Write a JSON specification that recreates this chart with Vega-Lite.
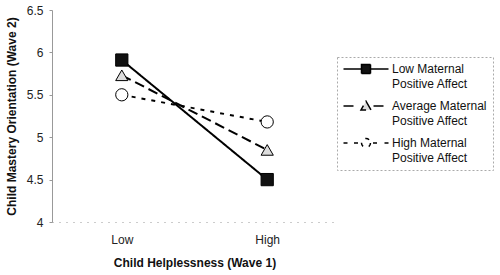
{
  "$schema": "https://vega.github.io/schema/vega-lite/v6.json",
  "width": 285,
  "height": 212,
  "autosize": {"type": "none"},
  "padding": {"left": 52, "top": 10, "right": 163, "bottom": 53},
  "background": "white",
  "config": {
    "view": {"stroke": null},
    "font": "Liberation Sans",
    "axis": {"grid": false, "labelFont": "Liberation Sans", "titleFont": "Liberation Sans", "labelColor": "#222", "titleColor": "#111"},
    "legend": {"labelFont": "Liberation Sans"}
  },
  "data": {
    "values": [
      {"helplessness": "Low", "group": "Low Maternal Positive Affect", "mastery": 5.91},
      {"helplessness": "High", "group": "Low Maternal Positive Affect", "mastery": 4.5},
      {"helplessness": "Low", "group": "Average Maternal Positive Affect", "mastery": 5.73},
      {"helplessness": "High", "group": "Average Maternal Positive Affect", "mastery": 4.85},
      {"helplessness": "Low", "group": "High Maternal Positive Affect", "mastery": 5.5},
      {"helplessness": "High", "group": "High Maternal Positive Affect", "mastery": 5.18}
    ]
  },
  "encoding": {
    "x": {
      "field": "helplessness", "type": "ordinal", "sort": ["Low", "High"],
      "scale": {"type": "point", "padding": 0.48},
      "axis": {"title": "Child Helplessness (Wave 1)", "labelAngle": 0, "labelFontSize": 12, "titleFontSize": 12, "titleFontWeight": "bold", "domainColor": "#999", "domainDash": [1, 6], "ticks": false, "labelPadding": 12, "titlePadding": 12}
    },
    "y": {
      "field": "mastery", "type": "quantitative",
      "scale": {"domain": [4, 6.5], "nice": false, "zero": false},
      "axis": {"title": "Child Mastery Orientation (Wave 2)", "values": [4, 4.5, 5, 5.5, 6, 6.5], "format": "~g", "labelFontSize": 12, "titleFontSize": 12, "titleFontWeight": "bold", "domainColor": "#999", "tickColor": "#999", "tickSize": 3, "labelPadding": 6, "titlePadding": 8}
    }
  },
  "layer": [
    {
      "mark": {"type": "line", "color": "black", "strokeWidth": 2},
      "encoding": {
        "strokeDash": {
          "field": "group", "type": "nominal",
          "sort": ["Low Maternal Positive Affect", "Average Maternal Positive Affect", "High Maternal Positive Affect"],
          "scale": {"range": [[1, 0], [10, 5], [4, 6]]},
          "legend": {
            "title": null, "orient": "none", "legendX": 285, "legendY": 47,
            "strokeColor": "#aaa", "padding": 6, "labelFontSize": 12, "labelColor": "#111",
            "labelExpr": "[replace(datum.label, ' Positive Affect', ''), 'Positive Affect']",
            "symbolSize": 100, "symbolOffset": 17, "symbolStrokeColor": "black", "symbolStrokeWidth": 1.5,
            "rowPadding": 8, "labelLimit": 200, "labelOffset": 20,
            "encode": {
              "labels": {"update": {"lineHeight": {"value": 15}}},
              "legend": {"update": {"strokeDash": {"value": [2, 2]}}},
              "symbols": {"update": {
                "shape": {"signal": "datum.value == 'Low Maternal Positive Affect' ? 'M-4.5,0H-0.9M0.9,0H4.5M-0.9,-0.9H0.9V0.9H-0.9Z' : datum.value == 'Average Maternal Positive Affect' ? 'M-4.5,0H-1.7M1.5,0H4.5M0,-0.95L1,0.8H-1Z' : 'M-4.5,0H-3.7M-2.4,0H-1.4M1.4,0H2.4M3.7,0H4.5M0.9,0A0.9,0.9,0,1,1,-0.9,0A0.9,0.9,0,1,1,0.9,0Z'"},
                "fill": {"signal": "datum.value == 'Low Maternal Positive Affect' ? '#111' : datum.value == 'Average Maternal Positive Affect' ? '#ddd' : 'white'"},
                "strokeDash": {"value": [1, 0]},
                "stroke": {"value": "black"},
                "size": {"value": 100},
                "opacity": {"value": 1}
              }}
            }
          }
        }
      }
    },
    {
      "transform": [{"filter": "datum.group == 'Low Maternal Positive Affect'"}],
      "mark": {"type": "point", "shape": "square", "filled": true, "fill": "#111", "size": 150, "stroke": "black", "strokeWidth": 1, "opacity": 1}
    },
    {
      "transform": [{"filter": "datum.group == 'Average Maternal Positive Affect'"}],
      "mark": {"type": "point", "shape": "triangle-up", "filled": true, "fill": "#ddd", "size": 150, "stroke": "black", "strokeWidth": 1, "opacity": 1}
    },
    {
      "transform": [{"filter": "datum.group == 'High Maternal Positive Affect'"}],
      "mark": {"type": "point", "shape": "circle", "filled": true, "fill": "white", "size": 150, "stroke": "black", "strokeWidth": 1, "opacity": 1}
    }
  ]
}
